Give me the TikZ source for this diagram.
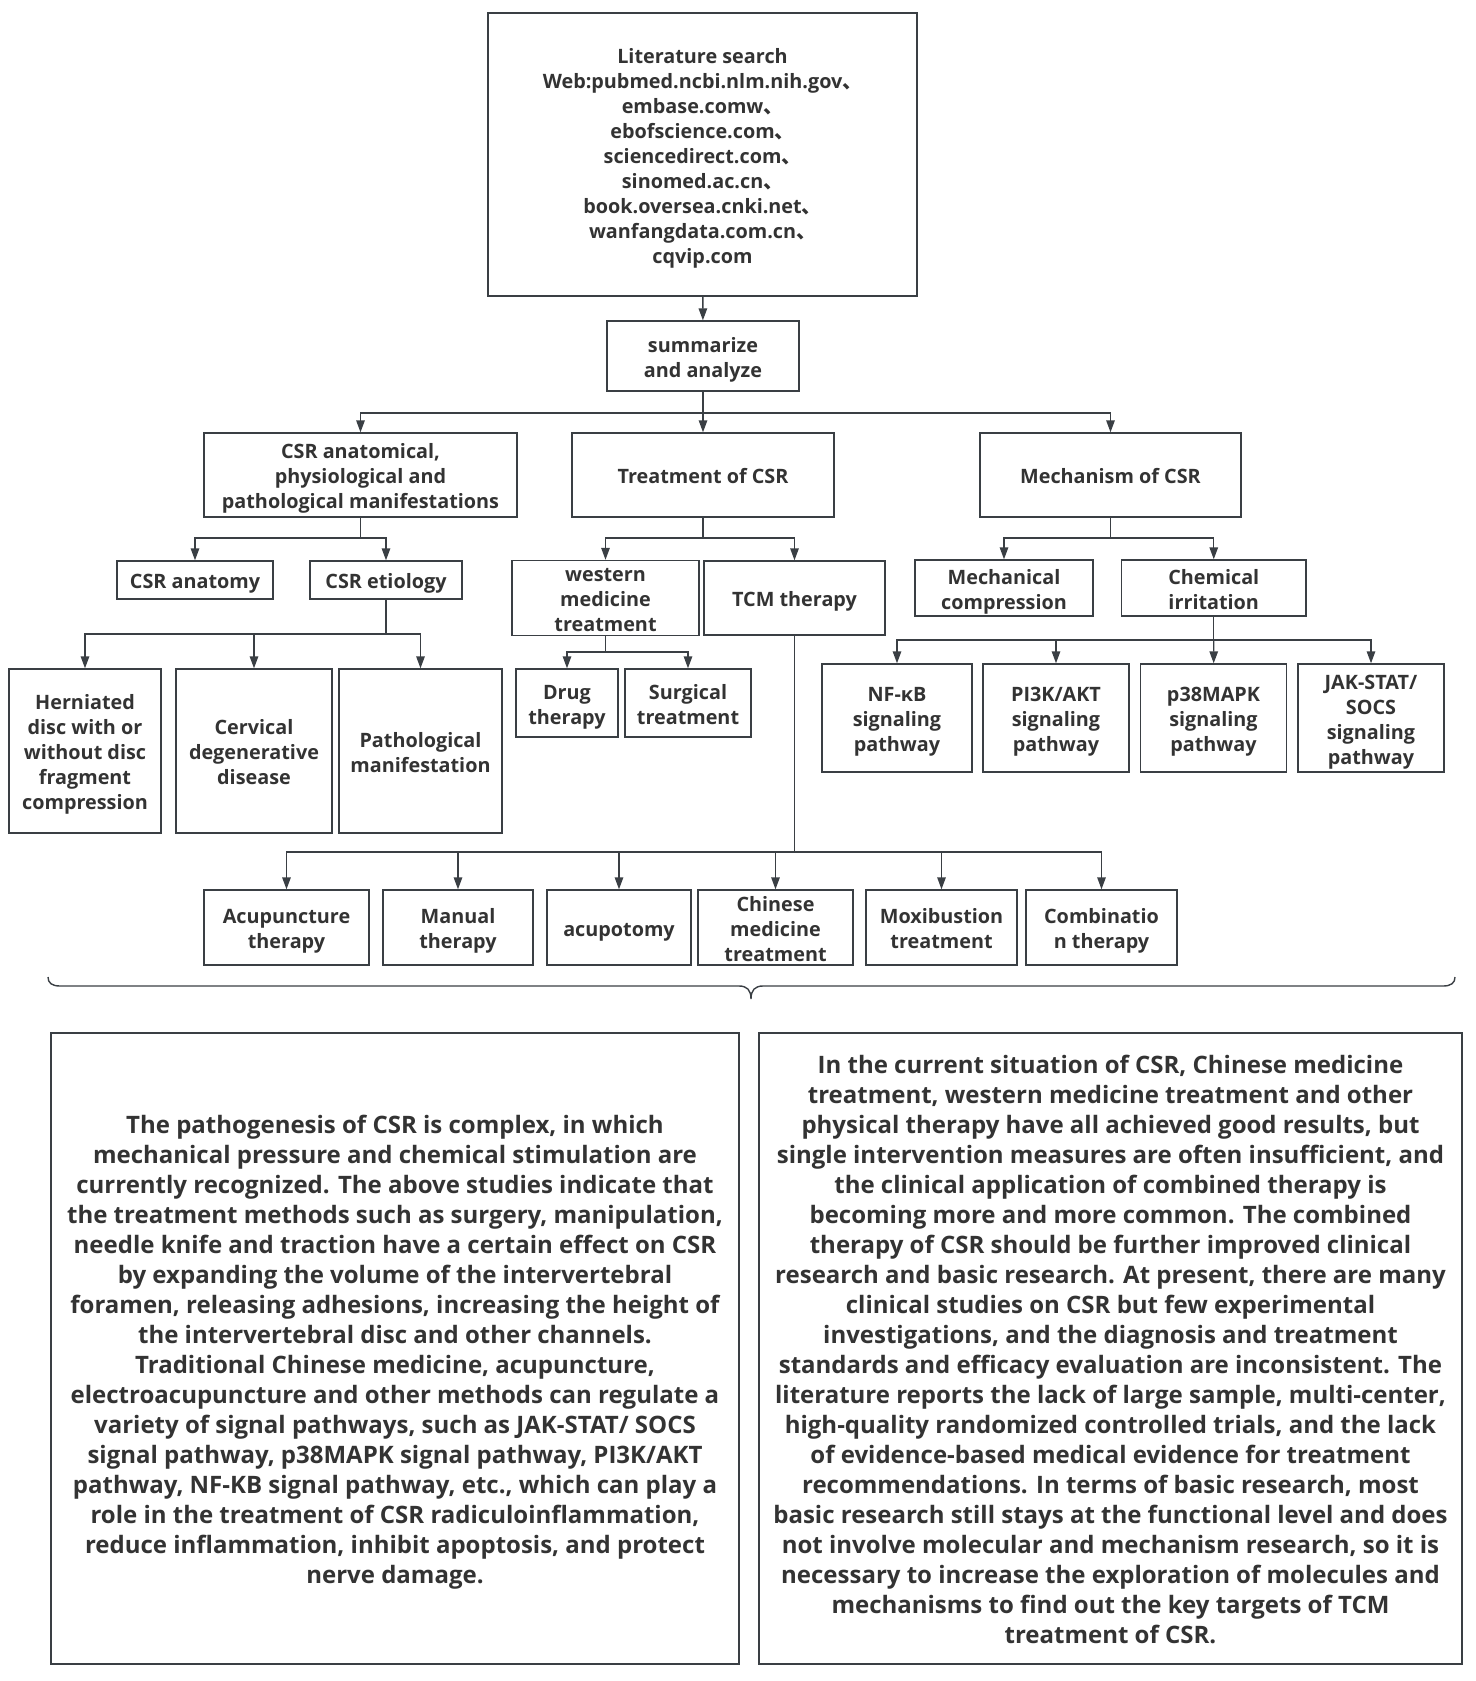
\documentclass[tikz,border=0pt]{standalone}
\usepackage{fontspec}
\setmainfont{Open Sans}
\newfontfamily\cjk{Noto Sans CJK SC}
\usetikzlibrary{arrows.meta}
\definecolor{txtc}{HTML}{333333}
\definecolor{linec}{HTML}{3A3F44}
\newcommand{\dun}{{\cjk 、}}
\newcommand{\T}[1]{\raisebox{-3.5pt}[\height][\depth]{\begin{tabular}{@{}c@{}}#1\end{tabular}}}
\tikzset{
  box/.style={draw=linec, line width=1.4pt, text=txtc, inner sep=0pt, anchor=center,
    font=\bfseries\fontsize{19.8}{25}\selectfont},
  bigbox/.style={box, font=\bfseries\fontsize{24}{30}\selectfont},
  conn/.style={draw=linec, line width=1.4pt},
  arr/.style={conn, -{Triangle[length=12pt,width=8.5pt]}},
}
\begin{document}
\begin{tikzpicture}[x=1pt,y=-1pt]
\useasboundingbox (0,0) rectangle (1475,1681);
% nodes
\node[box, minimum width=429pt, minimum height=283pt] (lit) at (702.5,154.5) {\T{Literature search\\Web:pubmed.ncbi.nlm.nih.gov\dun\\embase.comw\dun\\ebofscience.com\dun\\sciencedirect.com\dun\\sinomed.ac.cn\dun\\book.oversea.cnki.net\dun\\wanfangdata.com.cn\dun\\cqvip.com}};
\node[box, minimum width=192pt, minimum height=70pt] (sum) at (703,356) {\T{summarize\\and analyze}};
\node[box, minimum width=313pt, minimum height=84pt] (anat) at (360.5,475) {\T{CSR anatomical,\\physiological and\\pathological manifestations}};
\node[box, minimum width=262pt, minimum height=84pt] (treat) at (703,475) {\T{Treatment of CSR}};
\node[box, minimum width=261pt, minimum height=84pt] (mech) at (1110.5,475) {\T{Mechanism of CSR}};
\node[box, minimum width=156pt, minimum height=38pt] (anatomy) at (195,580) {\T{CSR anatomy}};
\node[box, minimum width=152pt, minimum height=38pt] (etio) at (386,580) {\T{CSR etiology}};
\node[box, minimum width=187pt, minimum height=74pt] (west) at (605.5,598) {\T{western\\medicine\\treatment}};
\node[box, minimum width=181pt, minimum height=74pt] (tcm) at (794.5,598) {\T{TCM therapy}};
\node[box, minimum width=178pt, minimum height=56pt] (mcomp) at (1004,588) {\T{Mechanical\\compression}};
\node[box, minimum width=184.5pt, minimum height=56pt] (chem) at (1213.75,588) {\T{Chemical\\irritation}};
\node[box, minimum width=152pt, minimum height=164pt] (hern) at (85,751) {\T{Herniated\\disc with or\\without disc\\fragment\\compression}};
\node[box, minimum width=156pt, minimum height=164pt] (cerv) at (254,751) {\T{Cervical\\degenerative\\disease}};
\node[box, minimum width=163pt, minimum height=164pt] (path) at (420.5,751) {\T{Pathological\\manifestation}};
\node[box, minimum width=102pt, minimum height=68pt] (drug) at (567,703) {\T{Drug\\therapy}};
\node[box, minimum width=126pt, minimum height=68pt] (surg) at (688,703) {\T{Surgical\\treatment}};
\node[box, minimum width=150pt, minimum height=108pt] (nfkb) at (897,718) {\T{NF-κB\\signaling\\pathway}};
\node[box, minimum width=146pt, minimum height=108pt] (pik) at (1056,718) {\T{PI3K/AKT\\signaling\\pathway}};
\node[box, minimum width=146pt, minimum height=108pt] (p38) at (1213.5,718) {\T{p38MAPK\\signaling\\pathway}};
\node[box, minimum width=146pt, minimum height=108pt] (jak) at (1371,718) {\T{JAK-STAT/\\SOCS\\signaling\\pathway}};
\node[box, minimum width=165pt, minimum height=75pt] (acu) at (286.5,927.5) {\T{Acupuncture\\therapy}};
\node[box, minimum width=150pt, minimum height=75pt] (man) at (458,927.5) {\T{Manual\\therapy}};
\node[box, minimum width=144pt, minimum height=75pt] (acup) at (619,927.5) {\T{acupotomy}};
\node[box, minimum width=155pt, minimum height=75pt] (chin) at (775.5,927.5) {\T{Chinese\\medicine\\treatment}};
\node[box, minimum width=151pt, minimum height=75pt] (moxi) at (941.5,927.5) {\T{Moxibustion\\treatment}};
\node[box, minimum width=151pt, minimum height=75pt] (comb) at (1101.5,927.5) {\T{Combinatio\\n therapy}};
\node[bigbox, minimum width=688pt, minimum height=631pt] (left) at (395,1348.5) {\T{The pathogenesis of CSR is complex, in which\\mechanical pressure and chemical stimulation are\\currently recognized. The above studies indicate that\\the treatment methods such as surgery, manipulation,\\needle knife and traction have a certain effect on CSR\\by expanding the volume of the intervertebral\\foramen, releasing adhesions, increasing the height of\\the intervertebral disc and other channels.\\Traditional Chinese medicine, acupuncture,\\electroacupuncture and other methods can regulate a\\variety of signal pathways, such as JAK-STAT/ SOCS\\signal pathway, p38MAPK signal pathway, PI3K/AKT\\pathway, NF-KB signal pathway, etc., which can play a\\role in the treatment of CSR radiculoinflammation,\\reduce inflammation, inhibit apoptosis, and protect\\nerve damage.}};
\node[bigbox, minimum width=703pt, minimum height=631pt] (right) at (1110.5,1348.5) {\T{In the current situation of CSR, Chinese medicine\\treatment, western medicine treatment and other\\physical therapy have all achieved good results, but\\single intervention measures are often insufficient, and\\the clinical application of combined therapy is\\becoming more and more common. The combined\\therapy of CSR should be further improved clinical\\research and basic research. At present, there are many\\clinical studies on CSR but few experimental\\investigations, and the diagnosis and treatment\\standards and efficacy evaluation are inconsistent. The\\literature reports the lack of large sample, multi-center,\\high-quality randomized controlled trials, and the lack\\of evidence-based medical evidence for treatment\\recommendations. In terms of basic research, most\\basic research still stays at the functional level and does\\not involve molecular and mechanism research, so it is\\necessary to increase the exploration of molecules and\\mechanisms to find out the key targets of TCM\\treatment of CSR.}};
% junctions
\coordinate (j1) at (703,413);
\coordinate (j2) at (360.5,538);
\coordinate (j3) at (703,538);
\coordinate (j4) at (1110.5,538);
\coordinate (j5) at (386,634);
\coordinate (j6) at (605.5,652);
\coordinate (j7) at (1213.75,640);
\coordinate (j8) at (794.5,852);
% connectors
\draw[arr] (lit) -- (sum);
\draw[conn] (sum) -- (j1);
\draw[arr] (j1) -| (anat.north);
\draw[arr] (j1) -- (treat);
\draw[arr] (j1) -| (mech.north);
\draw[conn] (anat) -- (j2);
\draw[arr] (j2) -| (anatomy.north);
\draw[arr] (j2) -| (etio.north);
\draw[conn] (treat) -- (j3);
\draw[arr] (j3) -| (west.north);
\draw[arr] (j3) -| (tcm.north);
\draw[conn] (mech) -- (j4);
\draw[arr] (j4) -| (mcomp.north);
\draw[arr] (j4) -| (chem.north);
\draw[conn] (etio) -- (j5);
\draw[arr] (j5) -| (hern.north);
\draw[arr] (j5) -| (cerv.north);
\draw[arr] (j5) -| (path.north);
\draw[conn] (west) -- (j6);
\draw[arr] (j6) -| (drug.north);
\draw[arr] (j6) -| (surg.north);
\draw[conn] (chem) -- (j7);
\draw[arr] (j7) -| (nfkb.north);
\draw[arr] (j7) -| (pik.north);
\draw[arr] (j7) -- (p38);
\draw[arr] (j7) -| (jak.north);
\draw[conn] (tcm) -- (j8);
\draw[arr] (j8) -| (acu.north);
\draw[arr] (j8) -| (man.north);
\draw[arr] (j8) -| (acup.north);
\draw[arr] (j8) -| (chin.north);
\draw[arr] (j8) -| (moxi.north);
\draw[arr] (j8) -| (comb.north);
% brace
\draw[conn] (48,977) .. controls (48,983) and (52,986) .. (60,986) -- (739,986)
  .. controls (747,986) and (751,990) .. (751,999)
  .. controls (751,990) and (755,986) .. (763,986) -- (1443,986)
  .. controls (1451,986) and (1455,983) .. (1455,977);
\end{tikzpicture}
\end{document}
